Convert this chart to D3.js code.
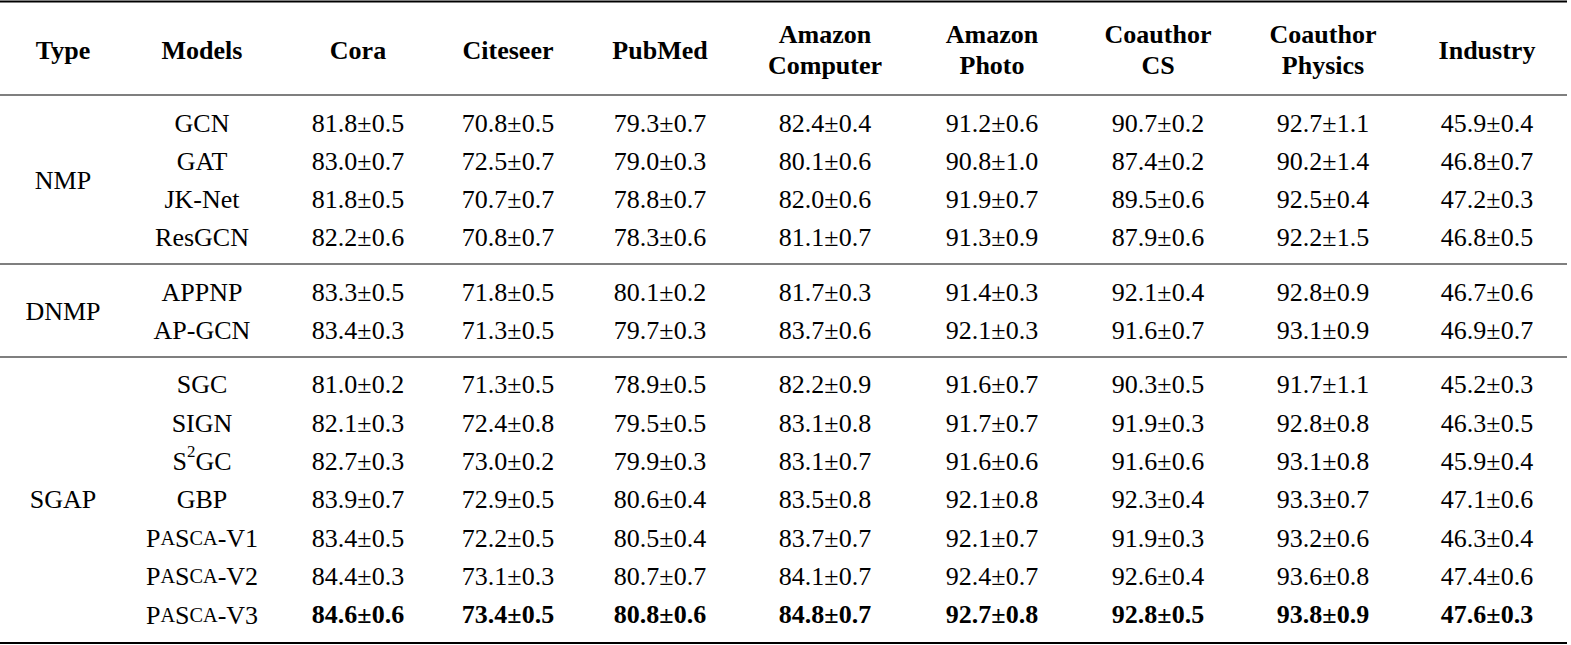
<!DOCTYPE html>
<html>
<head>
<meta charset="utf-8">
<script src="https://cdn.jsdelivr.net/npm/d3@7"></script>
<style>
  body { margin: 0; background: #fff; }
  svg text { font-family: "Liberation Serif", "Times New Roman", Tinos, "DejaVu Serif", serif; fill: #000; }
</style>
</head>
<body>
<svg id="chart" width="1571" height="645" font-family="'Liberation Serif', 'DejaVu Serif', serif"></svg>
<script>
// column headers (one or two lines each)
const headers = [["Type"], ["Models"], ["Cora"], ["Citeseer"], ["PubMed"],
  ["Amazon", "Computer"], ["Amazon", "Photo"], ["Coauthor", "CS"], ["Coauthor", "Physics"], ["Industry"]];

const types = ["NMP", "DNMP", "SGAP"];
const typeSizes = [4, 2, 7];

const models = ["GCN", "GAT", "JK-Net", "ResGCN", "APPNP", "AP-GCN",
  "SGC", "SIGN", "S2GC", "GBP", "PaSca-V1", "PaSca-V2", "PaSca-V3"];

const cora     = ["81.8±0.5","83.0±0.7","81.8±0.5","82.2±0.6","83.3±0.5","83.4±0.3","81.0±0.2","82.1±0.3","82.7±0.3","83.9±0.7","83.4±0.5","84.4±0.3","84.6±0.6"];
const citeseer = ["70.8±0.5","72.5±0.7","70.7±0.7","70.8±0.7","71.8±0.5","71.3±0.5","71.3±0.5","72.4±0.8","73.0±0.2","72.9±0.5","72.2±0.5","73.1±0.3","73.4±0.5"];
const pubmed   = ["79.3±0.7","79.0±0.3","78.8±0.7","78.3±0.6","80.1±0.2","79.7±0.3","78.9±0.5","79.5±0.5","79.9±0.3","80.6±0.4","80.5±0.4","80.7±0.7","80.8±0.6"];
const amzComp  = ["82.4±0.4","80.1±0.6","82.0±0.6","81.1±0.7","81.7±0.3","83.7±0.6","82.2±0.9","83.1±0.8","83.1±0.7","83.5±0.8","83.7±0.7","84.1±0.7","84.8±0.7"];
const amzPhoto = ["91.2±0.6","90.8±1.0","91.9±0.7","91.3±0.9","91.4±0.3","92.1±0.3","91.6±0.7","91.7±0.7","91.6±0.6","92.1±0.8","92.1±0.7","92.4±0.7","92.7±0.8"];
const coCS     = ["90.7±0.2","87.4±0.2","89.5±0.6","87.9±0.6","92.1±0.4","91.6±0.7","90.3±0.5","91.9±0.3","91.6±0.6","92.3±0.4","91.9±0.3","92.6±0.4","92.8±0.5"];
const coPhys   = ["92.7±1.1","90.2±1.4","92.5±0.4","92.2±1.5","92.8±0.9","93.1±0.9","91.7±1.1","92.8±0.8","93.1±0.8","93.3±0.7","93.2±0.6","93.6±0.8","93.8±0.9"];
const industry = ["45.9±0.4","46.8±0.7","47.2±0.3","46.8±0.5","46.7±0.6","46.9±0.7","45.2±0.3","46.3±0.5","45.9±0.4","47.1±0.6","46.3±0.4","47.4±0.6","47.6±0.3"];

const valueCols = [cora, citeseer, pubmed, amzComp, amzPhoto, coCS, coPhys, industry];
const bestRow = 12;

const svg = d3.select("#chart");
const fs = 26;
const serif = "'Liberation Serif', 'DejaVu Serif', serif";

const x = d3.scaleOrdinal().domain(d3.range(headers.length))
  .range([63, 202, 358, 508, 660, 825, 992, 1158, 1323, 1487]);

// row index -> y, with an extra gap between sections
const sectionOf = [];
typeSizes.forEach((n, s) => { for (let k = 0; k < n; k++) sectionOf.push(s); });
const rowStep = 38.3, sectionGap = 16;
const y = i => 123 + rowStep * i + sectionGap * sectionOf[i];

function txt() {
  return svg.append("text").attr("font-family", serif).attr("font-size", fs)
    .attr("text-anchor", "middle");
}

// rules
function rule(yy, w) {
  svg.append("line").attr("x1", 0).attr("x2", 1567).attr("y1", yy).attr("y2", yy)
    .attr("stroke", "#000").attr("stroke-width", w);
}
rule(1.5, 2.2); rule(95, 1.2); rule(264, 1.2); rule(357, 1.2); rule(643, 2.2);

// header
headers.forEach((h, c) => {
  const t = txt().attr("x", x(c)).attr("font-weight", "bold");
  if (h.length === 1) {
    t.attr("y", 50).attr("dominant-baseline", "central").text(h[0]);
  } else {
    h.forEach((line, k) => t.append("tspan").attr("x", x(c))
      .attr("y", 34 + 31 * k).attr("dominant-baseline", "central").text(line));
  }
});

// type labels, centered on their section
let start = 0;
types.forEach((tp, s) => {
  const end = start + typeSizes[s] - 1;
  txt().attr("x", x(0)).attr("y", (y(start) + y(end)) / 2)
    .attr("dominant-baseline", "central").text(tp);
  start = end + 1;
});

// model names (S^2GC superscript, PaSca in small caps)
models.forEach((m, i) => {
  const t = txt().attr("x", x(1)).attr("y", y(i)).attr("dominant-baseline", "central");
  if (m === "S2GC") {
    t.append("tspan").text("S");
    t.append("tspan").attr("font-size", fs * 0.65).attr("dy", -10).text("2");
    t.append("tspan").attr("dy", 10).text("GC");
  } else if (m.startsWith("PaSca")) {
    const sc = fs * 0.78;
    t.append("tspan").text("P");
    t.append("tspan").attr("font-size", sc).text("A");
    t.append("tspan").text("S");
    t.append("tspan").attr("font-size", sc).text("CA");
    t.append("tspan").text(m.slice(5));
  } else {
    t.text(m);
  }
});

// values
valueCols.forEach((col, c) => {
  svg.selectAll(null).data(col).enter().append("text")
    .attr("font-family", serif)
    .attr("x", x(c + 2)).attr("y", (d, i) => y(i))
    .attr("text-anchor", "middle").attr("dominant-baseline", "central")
    .attr("font-size", fs)
    .attr("font-weight", (d, i) => i === bestRow ? "bold" : null)
    .text(d => d);
});
</script>
</body>
</html>
